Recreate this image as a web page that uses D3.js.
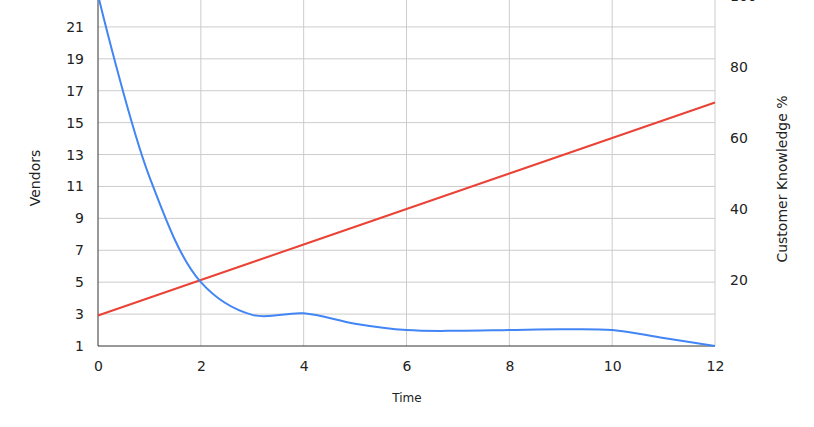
<!DOCTYPE html>
<html><head><meta charset="utf-8">
<script src="https://cdn.jsdelivr.net/npm/d3@7"></script>
<style>body{margin:0;background:#fff;font-family:"DejaVu Sans",sans-serif}</style>
</head><body><svg id="c" width="814" height="427"></svg>
<script>
const time = [0, 1, 2, 3, 4, 5, 6, 7, 8, 9, 10, 11, 12];
const vendors = [23, 11.6, 5, 2.95, 3.05, 2.4, 2, 1.95, 2, 2.05, 2, 1.5, 1];
const knowledge = [10, 15, 20, 25, 30, 35, 40, 45, 50, 55, 60, 65, 70];
const leftTicks = [1, 3, 5, 7, 9, 11, 13, 15, 17, 19, 21, 23];
const rightTicks = [20, 40, 60, 80, 100];
const xTicks = [0, 2, 4, 6, 8, 10, 12];

const svg = d3.select("#c");
const x = d3.scaleLinear().domain([0, 12]).range([98, 715]);
const yL = d3.scaleLinear().domain([1, 23]).range([346, -5]);
const yR = d3.scaleLinear().domain([0, 100]).range([351, -4]);

// grid
svg.append("g").selectAll("line").data(leftTicks.slice(1)).join("line")
  .attr("x1", 98).attr("x2", 715).attr("y1", d => yL(d)).attr("y2", d => yL(d))
  .attr("stroke", "#ccc");
svg.append("g").selectAll("line").data(xTicks.slice(1)).join("line")
  .attr("x1", d => x(d)).attr("x2", d => x(d)).attr("y1", -5).attr("y2", 346)
  .attr("stroke", "#ccc");

const ax = g => g.call(s => s.select(".domain").remove()).call(s => s.selectAll(".tick line").remove())
  .call(s => s.selectAll("text").attr("font-size", 14).attr("fill", "#222").attr("font-family", "DejaVu Sans"));
svg.append("g").attr("transform", "translate(98,0)")
  .call(d3.axisLeft(yL).tickValues(leftTicks).tickPadding(8)).call(ax);
svg.append("g").attr("transform", "translate(715,0)")
  .call(d3.axisRight(yR).tickValues(rightTicks).tickPadding(9)).call(ax);
svg.append("g").attr("transform", "translate(0,346)")
  .call(d3.axisBottom(x).tickValues(xTicks).tickPadding(9)).call(ax);

svg.append("line").attr("x1", 98).attr("x2", 98).attr("y1", -5).attr("y2", 346).attr("stroke", "#333");
svg.append("line").attr("x1", 98).attr("x2", 715).attr("y1", 346).attr("y2", 346).attr("stroke", "#333");

svg.append("path").datum(knowledge)
  .attr("d", d3.line().x((d, i) => x(time[i])).y(d => yR(d)))
  .attr("fill", "none").attr("stroke", "#ea4335").attr("stroke-width", 2);
svg.append("path").datum(vendors)
  .attr("d", d3.line().x((d, i) => x(time[i])).y(d => yL(d)).curve(d3.curveCatmullRom.alpha(0.5)))
  .attr("fill", "none").attr("stroke", "#4285f4").attr("stroke-width", 2);

svg.append("text").attr("transform", "translate(40,178) rotate(-90)").attr("text-anchor", "middle")
  .attr("font-size", 14).attr("fill", "#222").text("Vendors");
svg.append("text").attr("transform", "translate(787,179) rotate(-90)").attr("text-anchor", "middle")
  .attr("font-size", 14).attr("fill", "#222").text("Customer Knowledge %");
svg.append("text").attr("x", 407).attr("y", 402).attr("text-anchor", "middle")
  .attr("font-size", 12).attr("fill", "#222").text("Time");
</script></body></html>
